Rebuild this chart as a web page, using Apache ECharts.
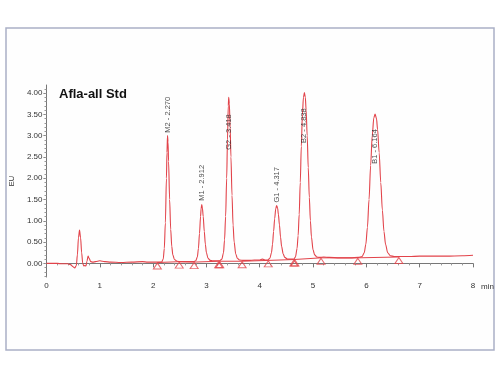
<!DOCTYPE html>
<html>
<head>
<meta charset="utf-8">
<script src="https://cdn.jsdelivr.net/npm/echarts@6/dist/echarts.min.js"></script>
<style>html,body{margin:0;padding:0;background:#fff;}#c{width:500px;height:375px;}</style>
</head>
<body>
<div id="c"></div>
<script>
// Chromatogram trace: [time (min), signal (EU)]
var trace = [
  [0,0.0],[0.1,0.0],[0.2,0.0],[0.3,-0.01],[0.4,-0.01],[0.45,-0.03],[0.5,-0.08],[0.53,-0.11],[0.56,-0.05],
  [0.58,0.2],[0.6,0.6],[0.62,0.78],[0.64,0.6],[0.66,0.25],[0.68,0.0],[0.7,-0.06],[0.72,-0.05],[0.74,-0.06],
  [0.76,0.05],[0.78,0.17],[0.8,0.12],[0.83,0.04],[0.87,0.03],[0.92,0.04],[1.0,0.06],[1.05,0.05],[1.1,0.04],
  [1.2,0.03],[1.4,0.02],[1.6,0.03],[1.8,0.04],[1.9,0.03],[2.0,0.03],[2.1,0.03],
  [2.16,0.03],[2.19,0.1],[2.21,0.35],[2.23,0.95],[2.25,2.0],[2.26,2.6],[2.27,3.0],[2.28,2.85],[2.29,2.4],
  [2.31,1.5],[2.33,0.8],[2.35,0.4],[2.37,0.2],[2.40,0.09],[2.45,0.05],[2.52,0.04],[2.6,0.04],[2.7,0.04],
  [2.76,0.04],[2.80,0.06],[2.83,0.15],[2.85,0.35],[2.87,0.7],[2.89,1.1],[2.90,1.28],[2.912,1.38],[2.925,1.3],
  [2.94,1.1],[2.96,0.75],[2.98,0.45],[3.00,0.25],[3.03,0.12],[3.07,0.07],[3.12,0.06],[3.2,0.06],
  [3.25,0.06],[3.29,0.1],[3.32,0.25],[3.34,0.55],[3.36,1.1],[3.38,2.0],[3.395,2.9],[3.41,3.7],[3.418,3.9],
  [3.43,3.75],[3.445,3.2],[3.46,2.5],[3.48,1.6],[3.50,0.9],[3.52,0.5],[3.55,0.22],[3.58,0.12],[3.62,0.08],
  [3.7,0.07],[3.8,0.07],[3.9,0.08],[4.0,0.08],[4.05,0.1],[4.1,0.08],[4.15,0.08],
  [4.19,0.12],[4.22,0.25],[4.24,0.45],[4.26,0.75],[4.28,1.05],[4.30,1.28],[4.317,1.36],[4.335,1.3],[4.35,1.15],
  [4.37,0.9],[4.39,0.62],[4.41,0.4],[4.44,0.22],[4.47,0.14],[4.52,0.1],[4.58,0.1],[4.64,0.1],
  [4.67,0.15],[4.70,0.35],[4.72,0.65],[4.74,1.15],[4.76,1.9],[4.78,2.75],[4.80,3.5],[4.82,3.9],[4.838,4.01],
  [4.855,3.9],[4.87,3.6],[4.89,3.0],[4.91,2.25],[4.93,1.55],[4.95,1.0],[4.97,0.62],[5.0,0.32],[5.03,0.2],
  [5.07,0.15],[5.12,0.14],[5.2,0.15],[5.3,0.14],[5.5,0.13],[5.7,0.13],[5.85,0.14],
  [5.92,0.16],[5.96,0.25],[5.99,0.45],[6.02,0.85],[6.05,1.5],[6.08,2.3],[6.11,3.0],[6.14,3.42],[6.164,3.51],
  [6.19,3.4],[6.21,3.15],[6.24,2.6],[6.27,1.9],[6.30,1.25],[6.33,0.75],[6.36,0.45],[6.40,0.25],[6.45,0.18],
  [6.52,0.16],[6.6,0.16],[6.8,0.16],[7.0,0.17],[7.2,0.17],[7.5,0.17],[7.8,0.18],[8.0,0.19]
];
// Peak identification
var peakNames = ['M2','M1','G2','G1','B2','B1'];
var peakTimes = [2.270, 2.912, 3.418, 4.317, 4.838, 6.164];
var labelBaseY = [3.07, 1.47, 2.67, 1.43, 2.83, 2.34];
// Integration start/end marks (triangles) and their baseline values
var markTimes = [2.08, 2.49, 2.77, 3.23, 3.25, 3.67, 4.16, 4.64, 4.66, 5.15, 5.84, 6.61];
var markVals  = [0.02, 0.04, 0.03, 0.05, 0.05, 0.05, 0.07, 0.09, 0.09, 0.13, 0.13, 0.15];
// Axis ticks
var yTickVals = [0, 0.5, 1.0, 1.5, 2.0, 2.5, 3.0, 3.5, 4.0];
var title = 'Afla-all Std';

var RED = '#e2434a';
var yMin = -0.32, yMax = 4.19;
var minorY = [];
for (var i = -3; i <= 41; i++) minorY.push(Math.round(i * 10) / 100);

var labelData = peakNames.map(function (n, i) { return [peakTimes[i], labelBaseY[i], n + ' - ' + peakTimes[i].toFixed(3)]; });
var marks = markTimes.map(function (t, i) { return [t, markVals[i]]; });

var chart = echarts.init(document.getElementById('c'), null, {renderer: 'canvas'});
chart.setOption({
  animation: false,
  backgroundColor: '#ffffff',
  textStyle: {fontFamily: 'Liberation Sans, Arial, sans-serif'},
  graphic: [
    {type: 'rect', shape: {x: 6, y: 28, width: 488, height: 322}, style: {fill: '#fefefe', stroke: '#aab0c6', lineWidth: 1.5}, z: -10},
    {type: 'text', left: 59, top: 88, style: {text: title, font: 'bold 13px "Liberation Sans", Arial, sans-serif', fill: '#111'}}
  ],
  grid: {left: 42, right: 27, top: 85, bottom: 98},
  xAxis: {
    type: 'value', min: 0, max: 8, interval: 1,
    name: 'min', nameLocation: 'end', nameGap: 3,
    nameTextStyle: {fontSize: 8, color: '#333', verticalAlign: 'top', padding: [19, 0, 0, 0]},
    axisLine: {lineStyle: {color: '#777', width: 1}},
    axisTick: {length: 4, lineStyle: {color: '#777'}},
    minorTick: {show: true, splitNumber: 5, length: 2, lineStyle: {color: '#999'}},
    axisLabel: {fontSize: 8, color: '#333', margin: 5},
    splitLine: {show: false}
  },
  yAxis: [{
    type: 'value', min: yMin, max: yMax,
    name: 'EU', nameLocation: 'middle', nameGap: 26,
    nameTextStyle: {fontSize: 7.5, color: '#333'},
    axisLine: {show: true, lineStyle: {color: '#777', width: 1}},
    axisTick: {show: true, length: 3, customValues: yTickVals, lineStyle: {color: '#777'}},
    axisLabel: {fontSize: 8, color: '#333', margin: 4, customValues: yTickVals, formatter: function (v) { return v.toFixed(2); }},
    splitLine: {show: false}
  }, {
    type: 'value', min: yMin, max: yMax, position: 'left',
    axisLine: {show: false},
    axisTick: {show: true, length: 2, customValues: minorY, lineStyle: {color: '#999'}},
    axisLabel: {show: false},
    splitLine: {show: false}
  }],
  series: [
    {
      type: 'line', data: trace, showSymbol: false, smooth: 0.3, smoothMonotone: 'x',
      lineStyle: {color: RED, width: 1.1}, z: 3
    },
    {
      type: 'line', data: marks, showSymbol: false,
      lineStyle: {color: RED, width: 1}, z: 2
    },
    {
      type: 'scatter', data: marks, symbol: 'triangle', symbolSize: [8, 6], symbolOffset: [0, 3.5],
      itemStyle: {color: 'rgba(255,255,255,0)', borderColor: RED, borderWidth: 1}, z: 4
    },
    {
      type: 'scatter', data: labelData, symbolSize: 0,
      label: {
        show: true, position: [0, 0], rotate: 90, align: 'left', verticalAlign: 'middle',
        fontSize: 7.5, color: '#222',
        formatter: function (p) { return p.data[2]; }
      }, z: 5
    }
  ]
});
</script>
</body>
</html>
